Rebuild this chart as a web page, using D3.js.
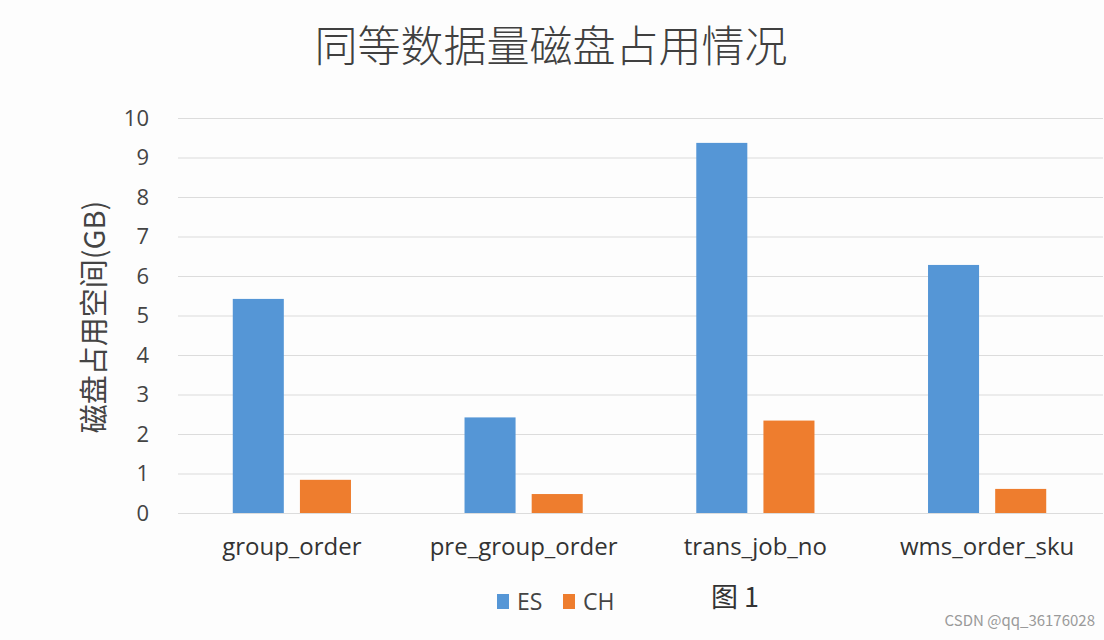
<!DOCTYPE html>
<html>
<head>
<meta charset="utf-8">
<script src="https://cdn.jsdelivr.net/npm/d3@7/dist/d3.min.js"></script>
<style>
  html, body { margin: 0; padding: 0; background: #fdfdfd; }
  svg { display: block; }
</style>
</head>
<body>
<svg id="chart" width="1104" height="640"></svg>
<script>
const categories = ["group_order", "pre_group_order", "trans_job_no", "wms_order_sku"];
const seriesNames = ["ES", "CH"];
const esValues = [5.42, 2.42, 9.37, 6.28];
const chValues = [0.84, 0.48, 2.34, 0.61];
const yTicks = [0, 1, 2, 3, 4, 5, 6, 7, 8, 9, 10];
const title = "同等数据量磁盘占用情况";
const yLabel = "磁盘占用空间(GB)";
const caption = "图 1";
const watermark = "CSDN @qq_36176028";

const colors = { ES: "#5596d6", CH: "#ee7d2e" };
const latin = "'Open Sans', 'Noto Sans', sans-serif";
const cjk = "'Noto Sans CJK SC', 'Noto Sans', sans-serif";

const svg = d3.select("#chart");
svg.append("rect").attr("width", 1104).attr("height", 640).attr("fill", "#fdfdfd");

const y = d3.scaleLinear().domain([0, 10]).range([513, 118]);
const x0 = d3.scaleBand().domain(categories).range([176, 1103]).paddingInner(0.49).paddingOuter(0.245);
const x1 = d3.scaleBand().domain(seriesNames).range([0, x0.bandwidth()]).paddingInner(0.24);

// gridlines
const grid = svg.append("g")
  .call(d3.axisLeft(y).tickValues(yTicks).tickSize(-(1103 - 178)).tickFormat(""))
  .attr("transform", "translate(178,0)");
grid.select(".domain").remove();
grid.selectAll(".tick line").attr("stroke", "#dcdcdc").attr("stroke-width", 1.2);

// y tick labels
const yAxis = svg.append("g").attr("transform", "translate(149,0)")
  .call(d3.axisLeft(y).tickValues(yTicks).tickSize(0).tickPadding(0));
yAxis.select(".domain").remove();
yAxis.selectAll("text").attr("font-family", latin).attr("font-size", 22).attr("fill", "#444");

// bars
const data = categories.map((c, i) => ({ cat: c, vals: [{ s: "ES", v: esValues[i] }, { s: "CH", v: chValues[i] }] }));
const groups = svg.append("g").selectAll("g").data(data).join("g")
  .attr("transform", d => `translate(${x0(d.cat)},0)`);
groups.selectAll("rect").data(d => d.vals).join("rect")
  .attr("x", d => x1(d.s))
  .attr("width", x1.bandwidth())
  .attr("y", d => y(d.v))
  .attr("height", d => y(0) - y(d.v))
  .attr("fill", d => colors[d.s]);

// x axis labels
const xAxis = svg.append("g").attr("transform", "translate(0,533)")
  .call(d3.axisBottom(x0).tickSize(0).tickPadding(0));
xAxis.select(".domain").remove();
xAxis.selectAll("text").attr("font-family", latin).attr("font-size", 24).attr("fill", "#333")
  .attr("dy", "0.9em");

// title
svg.append("text").attr("x", 551).attr("y", 62).attr("text-anchor", "middle")
  .attr("font-family", cjk).attr("font-size", 43).attr("font-weight", 300).attr("fill", "#404040")
  .text(title);

// y label
svg.append("text").attr("transform", "translate(105,317) rotate(-90)")
  .attr("text-anchor", "middle").attr("font-family", cjk).attr("font-size", 29)
  .attr("fill", "#444").text(yLabel);

// legend
const legend = svg.append("g").attr("transform", "translate(497,0)");
const legendX = { ES: 0, CH: 66 };
seriesNames.forEach(s => {
  legend.append("rect").attr("x", legendX[s]).attr("y", 594).attr("width", 12).attr("height", 15).attr("fill", colors[s]);
  legend.append("text").attr("x", legendX[s] + 20).attr("y", 610)
    .attr("font-family", latin).attr("font-size", 23).attr("fill", "#444").text(s);
});

// caption
svg.append("text").attr("x", 711).attr("y", 607).attr("font-family", cjk)
  .attr("font-size", 27).attr("fill", "#333").text(caption);

// watermark
svg.append("text").attr("x", 1095).attr("y", 626).attr("text-anchor", "end")
  .attr("font-family", "'Noto Sans CJK SC', sans-serif").attr("font-size", 15).attr("fill", "#9a9a9a")
  .text(watermark);
</script>
</body>
</html>
